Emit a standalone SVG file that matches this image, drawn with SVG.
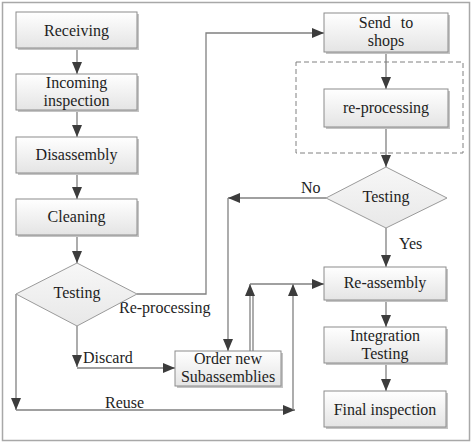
<svg xmlns="http://www.w3.org/2000/svg" width="474" height="445" viewBox="0 0 474 445">
<style>
.bx{fill:url(#g);stroke:#8c8c8c;stroke-width:1}
.sh{fill:#c4c4c4}
.dm{fill:url(#gd);stroke:#9a9a9a;stroke-width:1}
.c{fill:none;stroke:#808080;stroke-width:1.3}
</style>
<defs>
<linearGradient id="g" x1="0" y1="0" x2="0" y2="1"><stop offset="0" stop-color="#ffffff"/><stop offset="1" stop-color="#e4e4e4"/></linearGradient>
<linearGradient id="gd" x1="0" y1="0" x2="0" y2="1"><stop offset="0" stop-color="#f7f7f7"/><stop offset="1" stop-color="#e8e8e8"/></linearGradient>
<marker id="a" viewBox="0 0 12 10" refX="12" refY="5" markerWidth="12" markerHeight="10" orient="auto" markerUnits="userSpaceOnUse"><path d="M0,0 L12,5 L0,10 z" fill="#3c3c3c"/></marker>
</defs>
<rect x="0" y="0" width="474" height="445" fill="#ffffff"/>
<rect x="2.5" y="2.5" width="467" height="438" fill="none" stroke="#a8a8a8" stroke-width="1.5"/>
<rect x="296" y="62" width="167" height="91" fill="none" stroke="#808080" stroke-width="1" stroke-dasharray="5,3"/>

<g font-family="Liberation Serif, serif" font-size="16" fill="#1e1e1e">
<g id="connectors">
<line class="c" x1="77" y1="48" x2="77" y2="74" marker-end="url(#a)"/>
<line class="c" x1="77" y1="110" x2="77" y2="137" marker-end="url(#a)"/>
<line class="c" x1="77" y1="173" x2="77" y2="199" marker-end="url(#a)"/>
<line class="c" x1="77" y1="235" x2="77" y2="263" marker-end="url(#a)"/>
<polyline class="c" points="137,294 206,294 206,33 324,33" marker-end="url(#a)"/>
<line class="c" x1="77" y1="326" x2="77" y2="367" marker-end="url(#a)"/>
<line class="c" x1="77" y1="368" x2="175" y2="368" marker-end="url(#a)"/>
<line class="c" x1="16" y1="294" x2="16" y2="410" marker-end="url(#a)"/>
<line class="c" x1="16" y1="410" x2="295" y2="410" marker-end="url(#a)"/>
<line class="c" x1="293" y1="410" x2="293" y2="284" marker-end="url(#a)"/>
<line class="c" x1="250" y1="351" x2="250" y2="284" marker-end="url(#a)"/>
<line class="c" x1="253" y1="351" x2="253" y2="296"/>
<line class="c" x1="250" y1="284" x2="324" y2="284" marker-end="url(#a)"/>
<line class="c" x1="326" y1="198" x2="228" y2="198" marker-end="url(#a)"/>
<line class="c" x1="228" y1="198" x2="228" y2="351" marker-end="url(#a)"/>
<line class="c" x1="386" y1="52" x2="386" y2="89" marker-end="url(#a)"/>
<line class="c" x1="386" y1="127" x2="386" y2="167" marker-end="url(#a)"/>
<line class="c" x1="386" y1="228" x2="386" y2="267" marker-end="url(#a)"/>
<line class="c" x1="386" y1="300" x2="386" y2="327" marker-end="url(#a)"/>
<line class="c" x1="386" y1="363" x2="386" y2="391" marker-end="url(#a)"/>
<text x="119" y="313">Re-processing</text>
<text x="83" y="363">Discard</text>
<text x="105" y="408">Reuse</text>
<text x="301" y="193">No</text>
<text x="399" y="249">Yes</text>
</g>
<g text-anchor="middle">
<g id="receiving"><rect class="sh" x="18" y="14" width="121" height="36"/><rect class="bx" x="16" y="12" width="121" height="36"/><text x="76.5" y="36">Receiving</text></g>
<g id="incoming"><rect class="sh" x="18" y="76" width="121" height="36"/><rect class="bx" x="16" y="74" width="121" height="36"/><text x="76.5" y="88">Incoming</text><text x="76.5" y="106">inspection</text></g>
<g id="disassembly"><rect class="sh" x="18" y="139" width="121" height="36"/><rect class="bx" x="16" y="137" width="121" height="36"/><text x="76.5" y="160">Disassembly</text></g>
<g id="cleaning"><rect class="sh" x="18" y="201" width="121" height="36"/><rect class="bx" x="16" y="199" width="121" height="36"/><text x="76.5" y="222">Cleaning</text></g>
<g id="testing1"><polygon class="dm" points="77,263 137,294 77,326 16,294"/><text x="77" y="298">Testing</text></g>
<g id="order"><rect class="sh" x="177" y="353" width="106" height="35"/><rect class="bx" x="175" y="351" width="106" height="35"/><text x="228" y="364">Order new</text><text x="228" y="382">Subassemblies</text></g>
<g id="send"><rect class="sh" x="326" y="15" width="124" height="39"/><rect class="bx" x="324" y="13" width="124" height="39"/><text x="386" y="28" word-spacing="6">Send to</text><text x="386" y="46">shops</text></g>
<g id="reprocessing"><rect class="sh" x="326" y="91" width="124" height="38"/><rect class="bx" x="324" y="89" width="124" height="38"/><text x="386" y="113">re-processing</text></g>
<g id="testing2"><polygon class="dm" points="386,167 447,198 386,228 326,198"/><text x="386" y="202">Testing</text></g>
<g id="reassembly"><rect class="sh" x="326" y="269" width="122" height="33"/><rect class="bx" x="324" y="267" width="122" height="33"/><text x="385" y="288">Re-assembly</text></g>
<g id="integration"><rect class="sh" x="326" y="329" width="122" height="36"/><rect class="bx" x="324" y="327" width="122" height="36"/><text x="385" y="341">Integration</text><text x="385" y="359">Testing</text></g>
<g id="final"><rect class="sh" x="326" y="393" width="122" height="36"/><rect class="bx" x="324" y="391" width="122" height="36"/><text x="385" y="415">Final inspection</text></g>
</g>
</g>
</svg>
